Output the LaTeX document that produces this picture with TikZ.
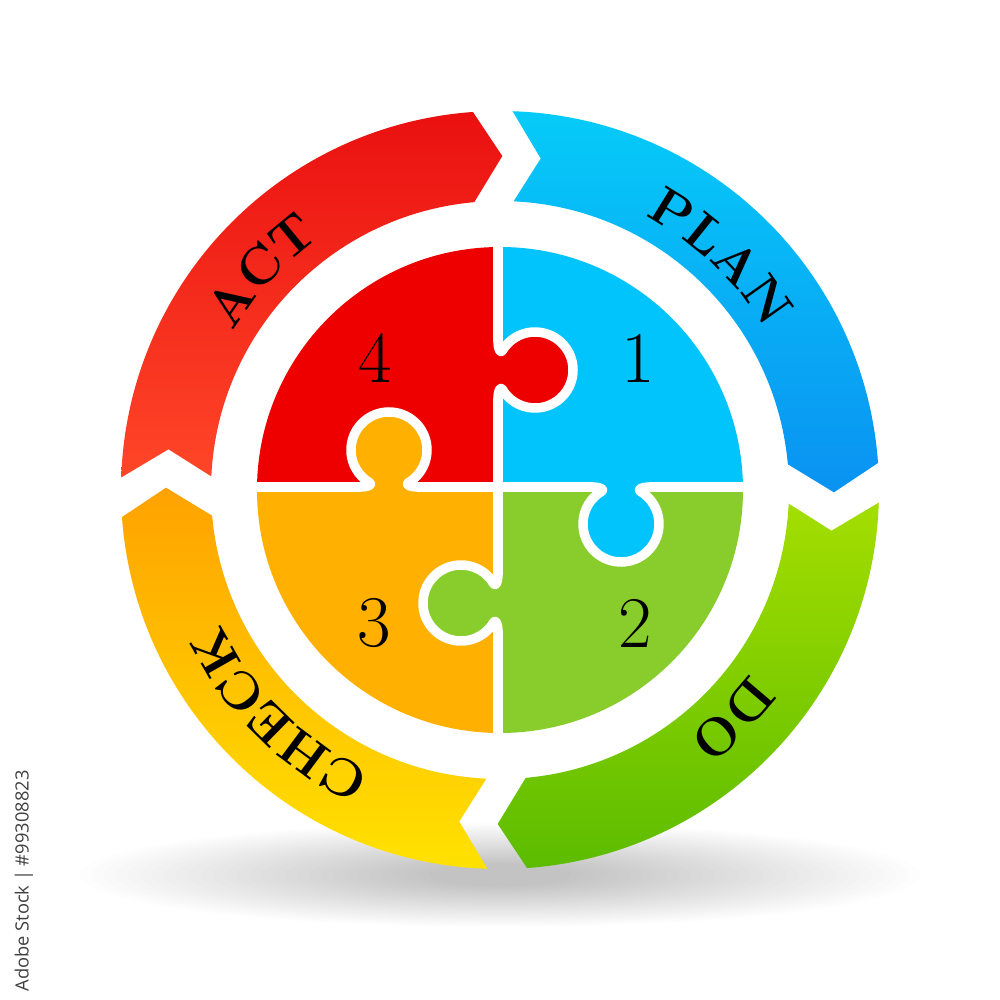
\documentclass[tikz,border=0pt]{standalone}
\usepackage{fontspec}
\newfontfamily\stockfont{Open Sans}
\usetikzlibrary{decorations.text}
\definecolor{pzred}{HTML}{EE0000}
\definecolor{pzblue}{HTML}{00C4FB}
\definecolor{pzgreen}{HTML}{88CD2C}
\definecolor{pzorange}{HTML}{FFB000}
\definecolor{arRedTop}{HTML}{EA1010}
\definecolor{arRedBot}{HTML}{FF4628}
\definecolor{arBlueTop}{HTML}{06CBF8}
\definecolor{arBlueBot}{HTML}{0A92F2}
\definecolor{arGreenTop}{HTML}{A4DE00}
\definecolor{arGreenBot}{HTML}{5CBC00}
\definecolor{arYelTop}{HTML}{FFA200}
\definecolor{arYelBot}{HTML}{FFE200}
\newcommand\pdcalabel{\fontsize{15}{18}\selectfont\bfseries}
\tikzset{
  numlabel/.style={font=\fontsize{20.7}{24}\selectfont, text=black, inner sep=0pt},
  gapline/.style={draw=white, line width=0.95mm, line join=round},
}
\begin{document}
\begin{tikzpicture}[x=0.01cm, y=0.01cm]
\useasboundingbox (-500,-510) rectangle (500,490);
\fill[white] (-500,-510) rectangle (500,490);
% soft shadow
\foreach \i in {0,...,29}{
  \fill[black, opacity=0.0095] (0,-385) ellipse [x radius={420-12*\i}, y radius={52-1.4*\i}];
}
% ring arrows
\foreach \a/\ct/\cb in {179.6/arRedTop/arRedBot, 89.6/arBlueTop/arBlueBot, -0.4/arGreenTop/arGreenBot, -90.4/arYelTop/arYelBot}{
  \pgfmathsetmacro\oa{\a-1.5}
  \pgfmathsetmacro\ob{\a-90+4.5}
  \pgfmathsetmacro\tp{\a-90}
  \pgfmathsetmacro\ia{\a-90+5.5}
  \pgfmathsetmacro\ib{\a-2.3}
  \pgfmathsetmacro\nt{\a-6.6}
  \shade[top color=\ct, bottom color=\cb] (\oa:379) arc[start angle=\oa, end angle=\ob, radius=379] -- (\tp:334) -- (\ia:289) arc[start angle=\ia, end angle=\ib, radius=289] -- (\nt:334) -- cycle;
}
% labels on the ring
\path[decorate, decoration={text along path, text={|\pdcalabel|PLAN}, text align=center}] (81.5:310) arc[start angle=81.5, end angle=11.5, radius=310];
\path[decorate, decoration={text along path, text={|\pdcalabel|DO}, text align=center}] (-9.5:310) arc[start angle=-9.5, end angle=-79.5, radius=310];
\path[decorate, decoration={text along path, text={|\pdcalabel|CHECK}, text align=center}] (-99.5:310) arc[start angle=-99.5, end angle=-169.5, radius=310];
\path[decorate, decoration={text along path, text={|\pdcalabel|ACT}, text align=center}] (172.5:310) arc[start angle=172.5, end angle=102.5, radius=310];
% puzzle
\begin{scope}
  \clip (0,0) circle[radius=243];
  \fill[pzblue] (-2,3) rectangle (250,250);
  \fill[pzgreen] (-2,3) rectangle (250,-250);
  \fill[pzorange] (-2,3) rectangle (-250,-250);
  \fill[pzred] (-2,3) rectangle (-250,250);
  \foreach \sx/\sy/\rot/\col in {-2/120/-90/pzred, 121/3/180/pzblue, -2/-113/90/pzgreen, -111/3/0/pzorange}{
    \begin{scope}[shift={(\sx,\sy)}, rotate=\rot]
      \fill[\col] (28,0) .. controls (21,0) and (16.6,2.5) .. (19,4.1) arc[start angle=-60, end angle=240, radius=38] .. controls (-16.6,2.5) and (-21,0) .. (-28,0) -- cycle;
    \end{scope}
  }
  \foreach \sx/\sy/\rot in {-2/120/-90, 121/3/180, -2/-113/90, -111/3/0}{
    \begin{scope}[shift={(\sx,\sy)}, rotate=\rot]
      \draw[gapline] (140,0) -- (28,0) .. controls (21,0) and (16.6,2.5) .. (19,4.1) arc[start angle=-60, end angle=240, radius=38] .. controls (-16.6,2.5) and (-21,0) .. (-28,0) -- (-140,0);
    \end{scope}
  }
\end{scope}
% numbers
\node[numlabel] (n1) at (138,132) {1};
\node[numlabel] (n2) at (135,-133) {2};
\node[numlabel] (n3) at (-126,-133) {3};
\node[numlabel] (n4) at (-125,132) {4};
% stock id
\node[rotate=90, font=\stockfont\fontsize{5.2}{6}\selectfont, text=black!75, inner sep=0pt] (stock) at (-476,-391) {Adobe Stock | \#99308823};
\end{tikzpicture}
\end{document}
